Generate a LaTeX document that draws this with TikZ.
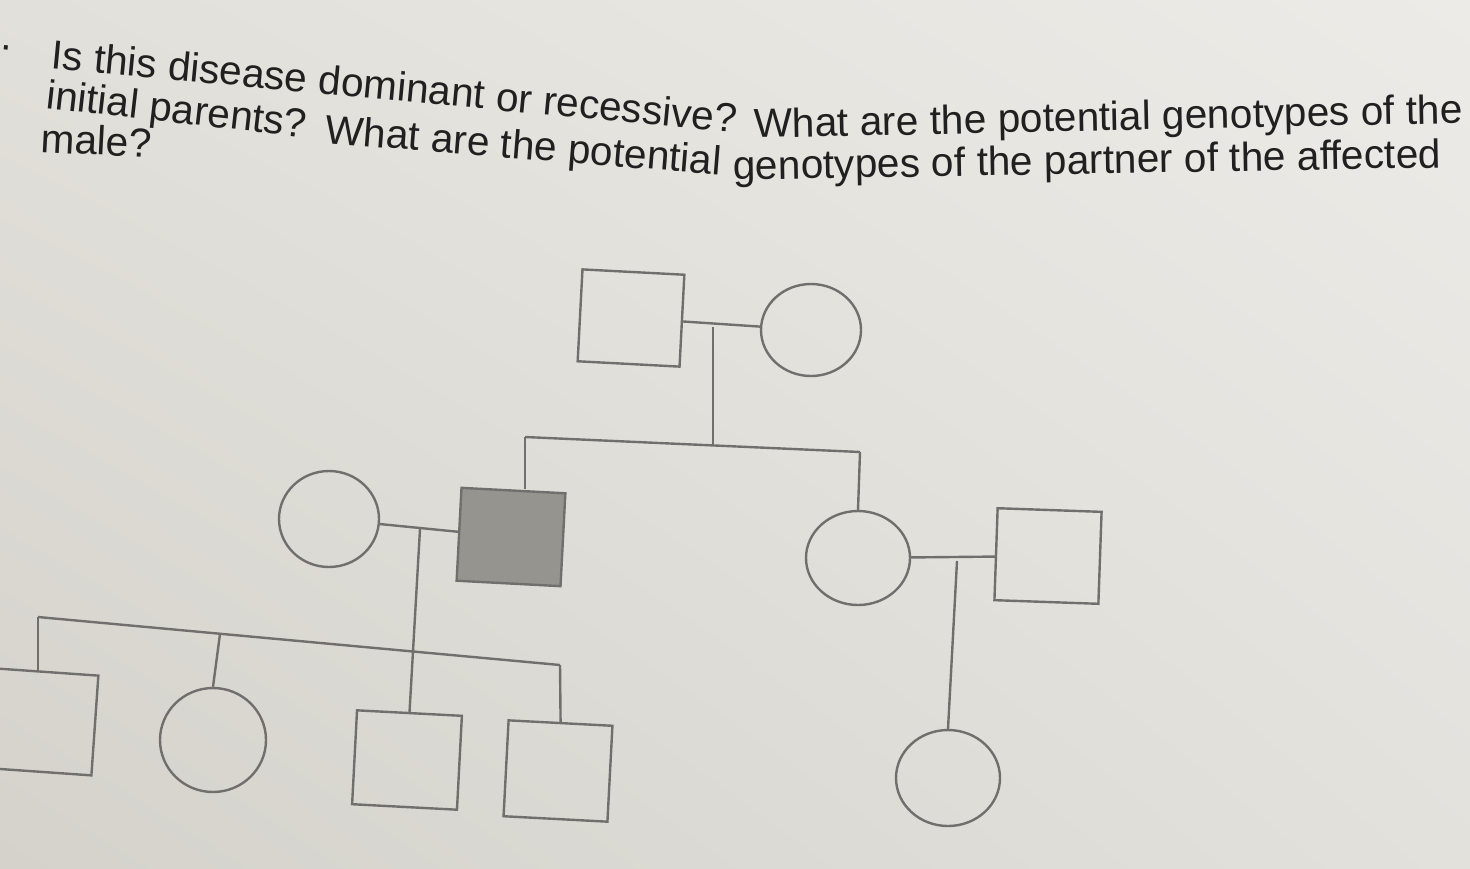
\documentclass[tikz,border=0pt]{standalone}
\usepackage{fontspec}
\setmainfont{Liberation Sans}
\usetikzlibrary{shapes.geometric,shadings}
\definecolor{paperLL}{RGB}{212,210,203}
\definecolor{paperUL}{RGB}{226,224,218}
\definecolor{paperUR}{RGB}{236,235,231}
\definecolor{paperLR}{RGB}{226,225,220}
\definecolor{lineC}{RGB}{112,111,110}
\definecolor{affC}{RGB}{150,148,142}
\definecolor{textC}{RGB}{32,32,32}
\begin{document}
\begin{tikzpicture}[x=0.5pt,y=-0.5pt,
  pline/.style={draw=lineC, line width=1.2pt},
  male/.style={rectangle, draw=lineC, line width=1.2pt, inner sep=0pt},
  female/.style={ellipse, draw=lineC, line width=1.2pt, inner sep=0pt},
  qtext/.style={font=\fontsize{20.3pt}{24pt}\selectfont, text=textC, inner sep=0pt, anchor=base west}]
\useasboundingbox (0,0) rectangle (1470,868);
\clip (0,0) rectangle (1470,868);
\shade[upper left=paperUL, upper right=paperUR, lower left=paperLL, lower right=paperLR] (0,0) rectangle (1470,868);

% question text
\node[qtext, rotate=-5] (q0) at (-22,47) {2.};
\node[qtext, rotate=-5.4] (q1a) at (50,68) {Is this disease dominant or recessive?};
\node[qtext, rotate=1.2] (q1b) at (754,138) {What are the potential genotypes of the};
\node[qtext, rotate=-6.5] (q2a) at (45,108) {initial parents?};
\node[qtext, rotate=-4.6] (q2b) at (324,143) {What are the potential};
\node[qtext, rotate=1.0] (q2c) at (733,180) {genotypes of the partner of the affected};
\node[qtext, rotate=-3] (q3) at (40,152) {male?};

% generation I
\node[male, minimum width=51pt, minimum height=46pt, rotate=-3] (gf) at (631,318) {};
\node[female, minimum width=50pt, minimum height=46pt] (gm) at (811,330) {};
\draw[pline] (gf) -- (gm);
\coordinate (m1) at (713,327);
\coordinate (j1) at (713,445);
\coordinate (c1a) at (525,437);
\coordinate (c1b) at (860,452);
\draw[pline] (m1) -- (j1);
\draw[pline] (c1a) -- (c1b);

% generation II
\node[male, fill=affC, minimum width=52pt, minimum height=46.5pt, rotate=-3] (am) at (511,537) {};
\draw[pline] (c1a) -- (c1a |- am.north);
\node[female, minimum width=50pt, minimum height=48pt] (pw) at (329,519) {};
\draw[pline] (pw) -- (am);
\node[female, minimum width=52pt, minimum height=47pt] (d1) at (858,558) {};
\draw[pline] (c1b) -- (d1.north);
\node[male, minimum width=52pt, minimum height=46pt, rotate=-2] (dp) at (1048,556) {};
\draw[pline] (d1) -- (dp);

% generation III (left family)
\coordinate (m2) at (420,529);
\coordinate (c2a) at (38,617);
\coordinate (c2b) at (560,665);
\coordinate (j2) at (220,634);
\draw[pline] (c2a) -- (c2b);
\node[male, minimum width=50pt, minimum height=50pt, rotate=-4] (ch1) at (45,722) {};
\node[female, minimum width=53pt, minimum height=52pt] (ch2) at (213,740) {};
\node[male, minimum width=52.5pt, minimum height=47pt, rotate=-3] (ch3) at (407,760) {};
\node[male, minimum width=52pt, minimum height=48pt, rotate=-3] (ch4) at (558,771) {};
\draw[pline] (c2a) -- (c2a |- ch1.north);
\draw[pline] (j2) -- (ch2.north);
\draw[pline] (m2) -- (ch3.north);
\draw[pline] (c2b) -- (ch4.north);

% generation III (right family)
\coordinate (m3) at (957,561);
\node[female, minimum width=52pt, minimum height=48pt] (gc) at (948,778) {};
\draw[pline] (m3) -- (gc.north);
\end{tikzpicture}
\end{document}
